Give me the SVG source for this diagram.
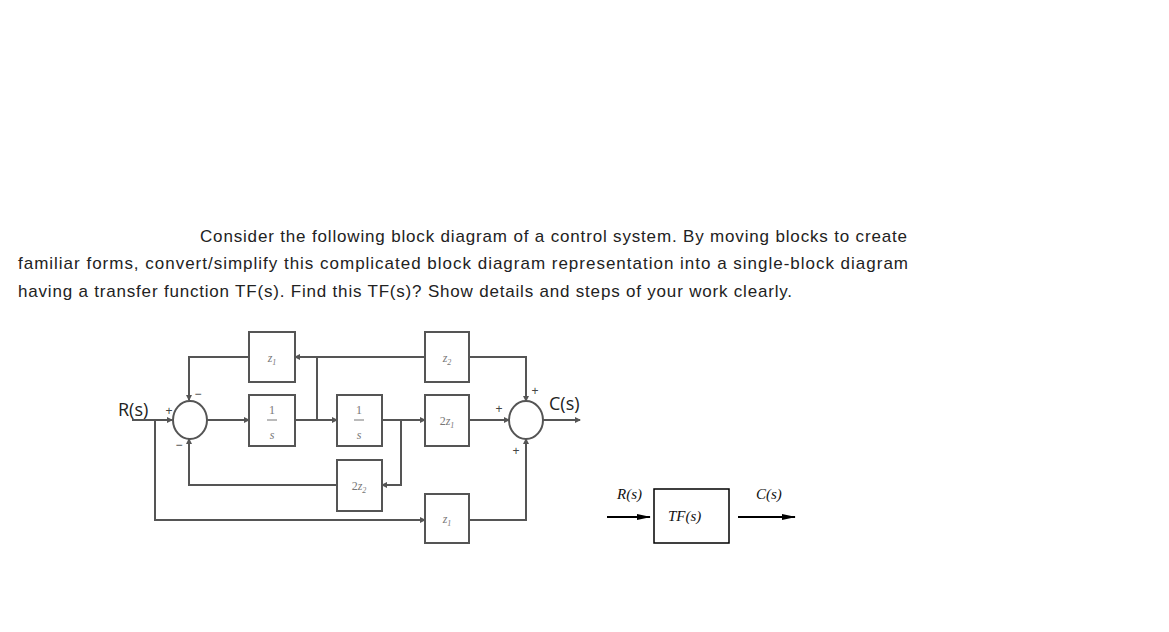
<svg xmlns="http://www.w3.org/2000/svg" width="1169" height="632" viewBox="0 0 1169 632">
<style>
.p{font-family:"Liberation Sans","Open Sans",sans-serif;font-size:17px;fill:#222}
.w{stroke:#555;stroke-width:2;fill:none}
.b{stroke:#555;stroke-width:2;fill:#fff}
.m{font-family:"Liberation Serif",serif;font-style:italic;font-size:12px;fill:#777;text-anchor:middle}
.n{font-family:"Liberation Serif",serif;font-size:12px;fill:#777;text-anchor:middle}
.l{font-family:"Open Sans","Liberation Sans",sans-serif;font-size:18px;fill:#222}
.s{font-family:"Liberation Sans",sans-serif;font-size:12px;fill:#444;text-anchor:middle}
.t{font-family:"Liberation Serif",serif;font-style:italic;font-size:15px;fill:#111}
</style>
<defs>
<marker id="a" markerWidth="6" markerHeight="6" refX="5" refY="3" orient="auto" markerUnits="userSpaceOnUse"><path d="M0,0 L6,3 L0,6 z" fill="#555"/></marker>
<marker id="k" markerWidth="14" markerHeight="8" refX="13" refY="4" orient="auto" markerUnits="userSpaceOnUse"><path d="M0,1 L14,4 L0,7 z" fill="#000"/></marker>
</defs>
<rect width="1169" height="632" fill="#fff"/>
<text class="p" x="200" y="242" textLength="707">Consider the following block diagram of a control system. By moving blocks to create</text>
<text class="p" x="18" y="269" textLength="890">familiar forms, convert/simplify this complicated block diagram representation into a single-block diagram</text>
<text class="p" x="18" y="297" textLength="774">having a transfer function TF(s). Find this TF(s)? Show details and steps of your work clearly.</text>
<g id="connectors">
<path class="w" d="M132,420 H172" marker-end="url(#a)"/>
<path class="w" d="M249,357 H189 V400" marker-end="url(#a)"/>
<path class="w" d="M207,420 H249" marker-end="url(#a)"/>
<path class="w" d="M295,420 H337" marker-end="url(#a)"/>
<path class="w" d="M317,420 V357"/>
<path class="w" d="M470,357 H295" marker-end="url(#a)"/>
<path class="w" d="M470,357 H425" marker-end="url(#a)"/>
<path class="w" d="M382,420 H425" marker-end="url(#a)"/>
<path class="w" d="M401,420 V485 H382" marker-end="url(#a)"/>
<path class="w" d="M337,485 H189 V439" marker-end="url(#a)"/>
<path class="w" d="M155,420 V520 H425" marker-end="url(#a)"/>
<path class="w" d="M469,357 H526 V401" marker-end="url(#a)"/>
<path class="w" d="M469,420 H509" marker-end="url(#a)"/>
<path class="w" d="M469,520 H526 V439" marker-end="url(#a)"/>
<path class="w" d="M543,420 H580" marker-end="url(#a)"/>
<path d="M607,517 H650" stroke="#000" stroke-width="2" marker-end="url(#k)"/>
<path d="M738,517 H795" stroke="#000" stroke-width="2" marker-end="url(#k)"/>
</g>
<g id="sum1"><ellipse class="b" cx="190" cy="420" rx="17" ry="19"/></g>
<g id="sum2"><ellipse class="b" cx="526" cy="420" rx="17" ry="19"/></g>
<g id="z1top"><rect class="b" x="249" y="332" width="46" height="50"/><text class="m" x="272" y="362">z<tspan font-size="8" dy="3">1</tspan></text></g>
<g id="int1"><rect class="b" x="249" y="395" width="46" height="51"/><text class="n" x="272" y="414">1</text><path d="M267,420 H277" stroke="#777"/><text class="m" x="272" y="439">s</text></g>
<g id="int2"><rect class="b" x="337" y="395" width="45" height="51"/><text class="n" x="359" y="414">1</text><path d="M354,420 H364" stroke="#777"/><text class="m" x="359" y="439">s</text></g>
<g id="z2"><rect class="b" x="425" y="332" width="44" height="50"/><text class="m" x="447" y="362">z<tspan font-size="8" dy="3">2</tspan></text></g>
<g id="twoz1"><rect class="b" x="425" y="395" width="44" height="51"/><text class="m" x="447" y="425"><tspan font-style="normal">2</tspan>z<tspan font-size="8" dy="3">1</tspan></text></g>
<g id="twoz2"><rect class="b" x="337" y="460" width="45" height="51"/><text class="m" x="359" y="490"><tspan font-style="normal">2</tspan>z<tspan font-size="8" dy="3">2</tspan></text></g>
<g id="z1bot"><rect class="b" x="425" y="494" width="44" height="49"/><text class="m" x="447" y="523">z<tspan font-size="8" dy="3">1</tspan></text></g>
<g id="labels">
<text class="l" x="118" y="416">R(s)</text>
<text class="l" x="549" y="410">C(s)</text>
<text class="s" x="169" y="415">+</text>
<text class="s" x="198" y="398">−</text>
<text class="s" x="179" y="449">−</text>
<text class="s" x="535" y="395">+</text>
<text class="s" x="499" y="413">+</text>
<text class="s" x="516" y="455">+</text>
</g>
<g id="tf"><rect x="654" y="489" width="75" height="54" fill="#fff" stroke="#000" stroke-width="1.5"/><text class="t" x="668" y="521">TF(s)</text></g>
<text class="t" x="617" y="499">R(s)</text>
<text class="t" x="756" y="499">C(s)</text>
</svg>
